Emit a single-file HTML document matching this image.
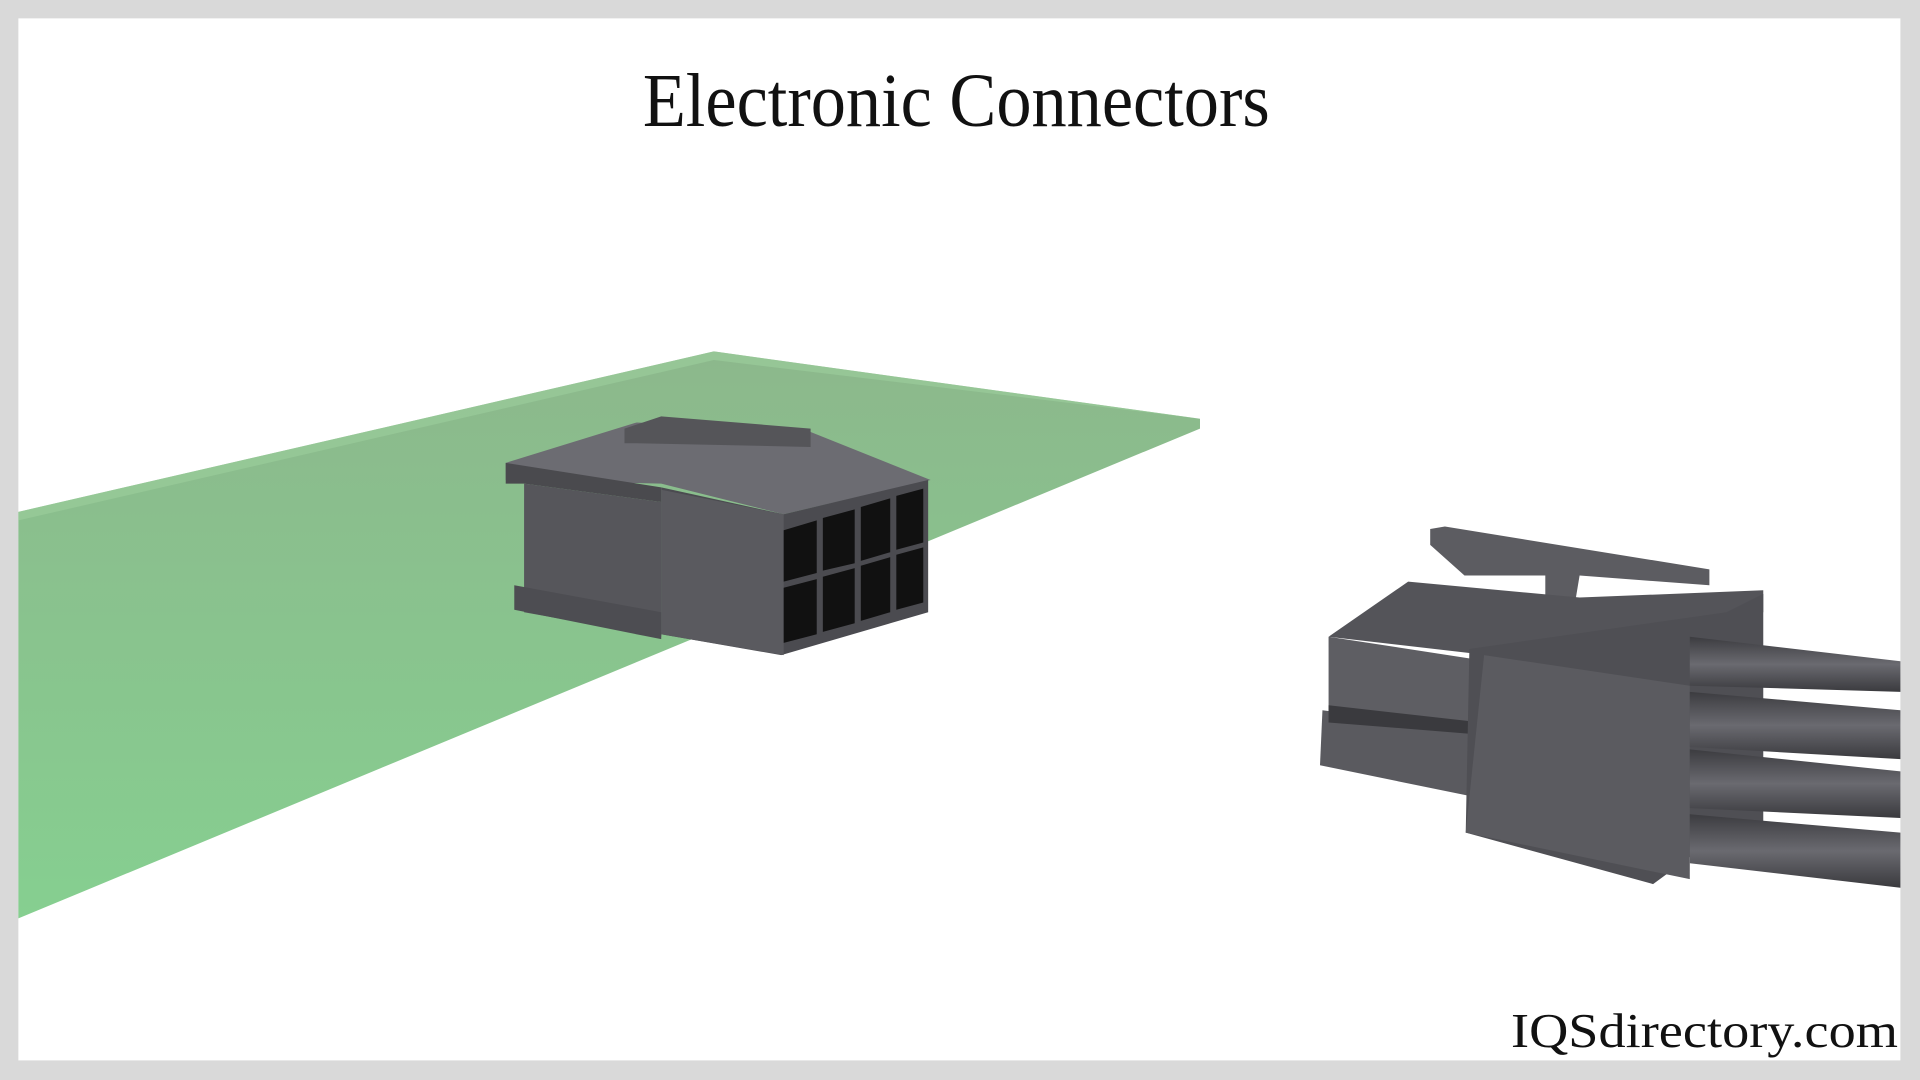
<!DOCTYPE html>
<html><head><meta charset="utf-8"><style>
html,body{margin:0;padding:0;width:1920px;height:1080px;overflow:hidden;background:#d9d9d9}
svg{display:block}
</style></head><body>
<svg width="1920" height="1080" viewBox="0 0 1568 882" preserveAspectRatio="none" xmlns="http://www.w3.org/2000/svg">
<defs>
<linearGradient id="g" x1="0" y1="0" x2="0" y2="1">
<stop offset="0" stop-color="#8cb88c"/><stop offset="1" stop-color="#86cf90"/>
</linearGradient>
<linearGradient id="w" x1="0" y1="0" x2="0" y2="1">
<stop offset="0" stop-color="#3c3c40"/><stop offset="0.5" stop-color="#6a6a70"/><stop offset="1" stop-color="#3a3a3e"/>
</linearGradient>
</defs>
<rect x="15" y="15" width="1537" height="851" fill="#fff"/>
<text x="781" y="103" text-anchor="middle" font-family="Liberation Serif, serif" font-size="62" textLength="512" lengthAdjust="spacingAndGlyphs" fill="#111">Electronic Connectors</text>
<!-- board -->
<polygon points="15,418 583,287 980,342 980,350 15,750" fill="url(#g)"/>
<polygon points="15,418 583,287 980,342 583,294 15,425" fill="#9ccf9c" opacity="0.6"/>
<!-- connector 1 -->
<polygon points="413,378 520,345 660,352 760,392 640,420 540,395 413,392" fill="#6c6c72"/>
<polygon points="510,350 540,340 662,350 662,365 520,362 510,362" fill="#555559"/>
<polygon points="413,378 540,398 540,410 428,395 413,395" fill="#4a4a4e"/>
<polygon points="428,395 540,410 540,520 428,500" fill="#56565b"/>
<polygon points="420,478 540,500 540,522 420,498" fill="#4d4d52"/>
<polygon points="540,398 640,420 758,392 758,500 638,535 540,518" fill="#4b4b50"/>
<polygon points="540,400 640,420 640,535 540,518" fill="#5a5a5f"/>
<g fill="#111">
<polygon points="640,433 667,425 667,468 640,475"/>
<polygon points="672,423 698,416 698,460 672,466"/>
<polygon points="703,414 727,407 727,451 703,458"/>
<polygon points="732,405 754,399 754,443 732,449"/>
<polygon points="640,480 667,473 667,518 640,525"/>
<polygon points="672,471 698,464 698,509 672,516"/>
<polygon points="703,462 727,455 727,500 703,507"/>
<polygon points="732,453 754,447 754,492 732,498"/>
</g>
<!-- connector 2 -->
<polygon points="1168,432 1180,430 1396,465 1396,478 1290,470 1285,500 1262,500 1262,470 1210,470 1196,470 1168,445" fill="#5c5c61"/>
<polygon points="1085,520 1150,475 1290,488 1440,482 1440,500 1410,505 1215,535" fill="#545459"/>
<polygon points="1085,520 1215,540 1215,600 1085,590" fill="#5e5e63"/>
<polygon points="1080,580 1200,596 1200,650 1078,625" fill="#5a5a5f"/>
<polygon points="1085,576 1210,590 1210,600 1085,590" fill="#3a3a3e"/>
<polygon points="1200,530 1410,500 1440,485 1440,700 1380,700 1350,722 1197,680" fill="#4f4f54"/>
<polygon points="1212,535 1380,560 1380,718 1197,680" fill="#5b5b60"/>
<g>
<polygon points="1380,520 1552,540 1552,565 1380,560" fill="url(#w)"/>
<polygon points="1380,565 1552,580 1552,620 1380,610" fill="url(#w)"/>
<polygon points="1380,612 1552,630 1552,668 1380,660" fill="url(#w)"/>
<polygon points="1380,665 1552,680 1552,725 1380,705" fill="url(#w)"/>
</g>
<text x="1550" y="855" text-anchor="end" font-family="Liberation Serif, serif" font-size="40" textLength="316" lengthAdjust="spacingAndGlyphs" fill="#111">IQSdirectory.com</text>
</svg>
</body></html>
